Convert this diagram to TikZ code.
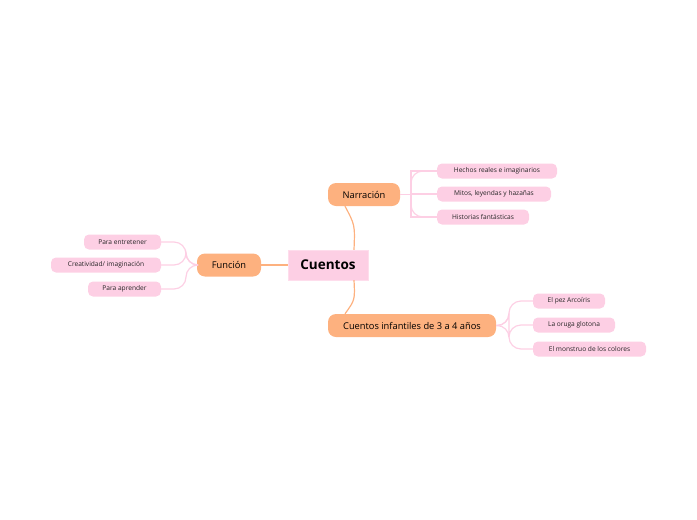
\documentclass[tikz,border=0pt]{standalone}
\usepackage{fontspec}
\setmainfont{Open Sans}
\begin{document}
\begin{tikzpicture}[x=1pt,y=-1pt,
  leaf/.style={fill=leafc,rounded corners=5pt,minimum height=15pt,inner xsep=8pt,font=\fontsize{6.6}{7}\selectfont,text=black!85},
  branch/.style={fill=branchc,rounded corners=8pt,minimum height=23pt,inner xsep=12pt,font=\fontsize{9.3}{10}\selectfont},
  oline/.style={draw=branchc,line width=1.2pt},
  pline/.style={draw=leafc,line width=1.2pt}]
\definecolor{leafc}{HTML}{FDCFE4}
\definecolor{branchc}{HTML}{FDB17F}
\useasboundingbox (0,0) rectangle (697,520);
\node[fill=leafc,draw=leafc!70!white,minimum width=80pt,minimum height=30pt,font=\bfseries\fontsize{13.5}{14}\selectfont] (c) at (328,265) {Cuentos};
\node[branch,minimum width=72pt] (n) at (364,194.5) {Narración};
\node[branch,minimum width=168pt] (ci) at (412,325.5) {Cuentos infantiles de 3 a 4 años};
\node[branch,minimum width=64pt] (f) at (229,265) {Función};
\node[leaf,minimum width=120pt] (h) at (497,171) {Hechos reales e imaginarios};
\node[leaf,minimum width=114pt] (m) at (494,194) {Mitos, leyendas y hazañas};
\node[leaf,minimum width=92pt] (hi) at (483,217) {Historias fantásticas};
\node[leaf,minimum width=72pt] (p) at (569,301) {El pez Arcoíris};
\node[leaf,minimum width=82pt] (o) at (574,325) {La oruga glotona};
\node[leaf,minimum width=113pt] (mo) at (589.5,349) {El monstruo de los colores};
\node[leaf,minimum width=77pt] (e) at (122.5,242) {Para entretener};
\node[leaf,minimum width=110pt] (cr) at (106,265) {Creatividad/ imaginación};
\node[leaf,minimum width=73pt] (a) at (124.5,289) {Para aprender};
\begin{scope}[on background layer/.try]
\end{scope}
\draw[oline] (c.north) ++(26,0) coordinate (c1) .. controls (355,225) .. (n.south -| 345,0);
\draw[oline] (c.south) ++(26,0) coordinate (c2) .. controls (355,300) .. (ci.north -| 345,0);
\draw[oline] (c.west) -- (f.east);
\foreach \t in {h,m,hi}{\draw[pline] (n.east) -- (411,194.5) |- ([yshift=0pt]\t.west) [rounded corners=0pt];}
\foreach \t in {h,hi}{\draw[pline,rounded corners=12pt] (411,194.5) |- (\t.west);}
\foreach \t in {p,o,mo}{\draw[pline,rounded corners=12pt] (ci.east) -- (509,325.5) |- (\t.west);}
\foreach \t in {e,cr,a}{\draw[pline,rounded corners=12pt] (f.west) -- (186,265) |- (\t.east);}
\end{tikzpicture}
\end{document}
